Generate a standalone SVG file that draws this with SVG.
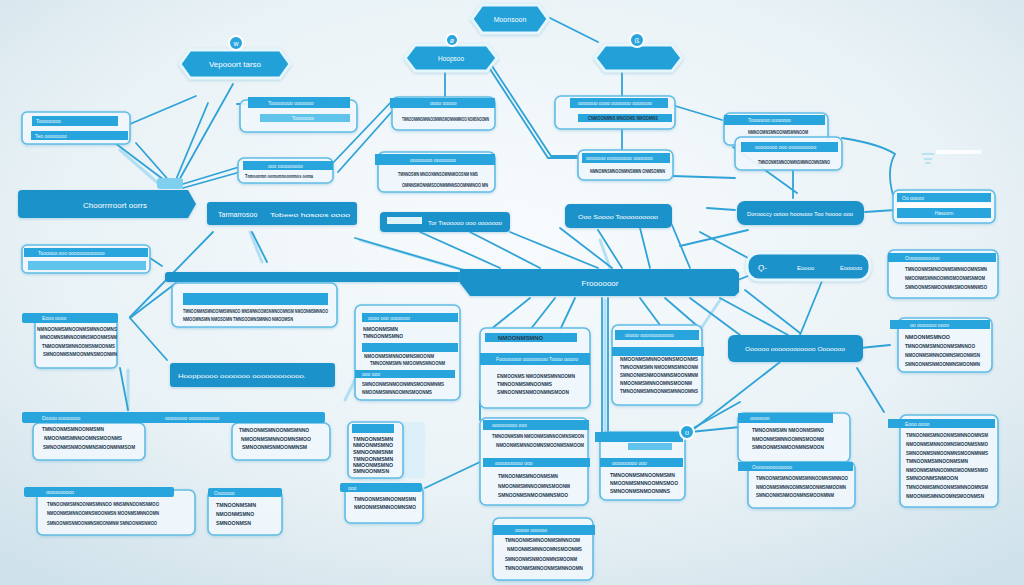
<svg xmlns="http://www.w3.org/2000/svg" width="1024" height="585" viewBox="0 0 1024 585">
<defs>
<radialGradient id="bg" cx="0.5" cy="0.4" r="0.75">
<stop offset="0" stop-color="#f8fbfd"/>
<stop offset="0.6" stop-color="#e9f2f6"/>
<stop offset="1" stop-color="#cfe1ea"/>
</radialGradient>
<filter id="sh" x="-10%" y="-20%" width="120%" height="150%">
<feDropShadow dx="0" dy="1" stdDeviation="1.5" flood-color="#6aaed0" flood-opacity="0.45"/>
</filter>
<style>
.fr{fill:#f5fbfe;fill-opacity:0.88;stroke:#62bde6;stroke-width:1.6;filter:url(#sh)}
.b{fill:#28a5dc}
.bd{fill:#1d92cb;filter:url(#sh)}
.lt{fill:#5fc3ec}
.hx{fill:#22a0d8;stroke:#e6f6fd;stroke-width:3;filter:url(#sh)}
.tw{font-family:"Liberation Sans",Arial,sans-serif;fill:#ffffff}
.ts{font-family:"Liberation Sans",Arial,sans-serif;fill:#e8f7fe;font-size:5px}
.td{font-family:"Liberation Sans",Arial,sans-serif;fill:#22364d;font-size:5.5px;font-weight:bold}
.c{stroke:#2fa3d7;stroke-width:1.8;fill:none;stroke-linecap:round}
.cl{stroke:#9ad6f0;stroke-width:3;fill:none;opacity:0.7;stroke-linecap:round}
.bd2{fill:#28a5dc;stroke:#ffffff;stroke-width:2}
</style>
</defs>
<rect width="1024" height="585" fill="url(#bg)"/>

<g id="connectors">
<path class="cl" d="M160,185 L120,150 M250,232 L262,262 M360,240 L470,272 M600,240 L610,268 M605,300 L605,430 M355,380 L345,400 M128,370 L128,410 M700,330 L720,300"/>
<path class="c" d="M130,124 L196,96"/>
<path class="c" d="M233,84 L178,182"/>
<path class="c" d="M208,103 L175,182"/>
<path class="c" d="M115,143 L168,183"/>
<path class="c" d="M136,143 L172,184"/>
<path class="c" d="M183,184 L239,167"/>
<path class="c" d="M183,188 L240,172"/>
<path class="c" d="M330,166 L392,101"/>
<path class="c" d="M338,172 L396,107"/>
<path class="c" d="M488,66 L548,158 L578,158"/>
<path class="c" d="M492,66 L551,156 L578,156"/>
<path class="c" d="M550,18 L598,42"/>
<path class="c" d="M445,72 L445,97"/>
<path class="c" d="M622,72 L622,97"/>
<path class="c" d="M622,129 L622,150"/>
<path class="c" d="M672,105 L722,120"/>
<path class="c" d="M842,138 Q880,144 895,154 Q886,170 893,195"/>
<path class="c" d="M672,176 L735,178"/>
<path class="c" d="M733,147 L797,193"/>
<path class="c" d="M793,170 L793,198"/>
<path class="c" d="M707,208 L735,210"/>
<path class="c" d="M865,212 L895,210"/>
<path class="c" d="M355,238 L470,272"/>
<path class="c" d="M420,232 L500,268"/>
<path class="c" d="M470,232 L540,268"/>
<path class="c" d="M510,232 L598,268"/>
<path class="c" d="M560,228 L612,268"/>
<path class="c" d="M598,230 L622,268"/>
<path class="c" d="M640,228 L650,268"/>
<path class="c" d="M672,225 L690,268"/>
<path class="c" d="M700,232 L748,258"/>
<path class="c" d="M680,246 L748,230"/>
<path class="c" d="M738,280 L748,276"/>
<path class="c" d="M530,298 L490,330"/>
<path class="c" d="M555,298 L530,330"/>
<path class="c" d="M575,298 L560,330"/>
<path class="c" d="M602,298 L602,432"/>
<path class="c" d="M608,298 L608,432"/>
<path class="c" d="M640,298 L660,325"/>
<path class="c" d="M665,298 L702,330"/>
<path class="c" d="M690,298 L740,335"/>
<path class="c" d="M720,298 L788,335"/>
<path class="c" d="M745,290 L800,333"/>
<path class="c" d="M822,281 L800,335"/>
<path class="c" d="M213,232 L130,317"/>
<path class="c" d="M252,232 L267,262"/>
<path class="c" d="M130,318 L176,283"/>
<path class="c" d="M130,318 L167,360"/>
<path class="c" d="M120,368 L128,410"/>
<path class="c" d="M150,258 L162,266"/>
<path class="c" d="M860,348 L890,345"/>
<path class="c" d="M857,368 L884,412"/>
<path class="c" d="M780,362 L690,432"/>
<path class="c" d="M690,432 L740,427"/>
<path class="c" d="M690,430 L740,402"/>
<path class="c" d="M425,488 L480,462"/>
<path class="c" d="M480,400 L480,420"/>
<path class="c" d="M237,104 L248,104"/>
</g>

<g id="n-hex1">
<path class="hx" d="M190,50 L280,50 L290,64 L280,78 L190,78 L180,64Z"/>
<circle class="bd2" cx="236" cy="43" r="7"/>
<text class="tw" x="236" y="46" text-anchor="middle" style="font-size:7px">w</text>
<text class="tw" x="235" y="67" text-anchor="middle" style="font-size:8px">Vepooort tarso</text>
</g>
<g id="n-hex2">
<path class="hx" d="M482,5 L538,5 L548,19 L538,33 L482,33 L472,19Z"/>
<text class="tw" x="510" y="22" text-anchor="middle" style="font-size:7px">Moonsoon</text>
</g>
<g id="n-hex3">
<path class="hx" d="M415,45 L487,45 L497,58 L487,71 L415,71 L405,58Z"/>
<circle class="bd2" cx="452" cy="40" r="6"/>
<text class="tw" x="452" y="43" text-anchor="middle" style="font-size:7px">ø</text>
<text class="tw" x="451" y="61" text-anchor="middle" style="font-size:6.5px">Hoopsoo</text>
</g>
<g id="n-hex4">
<path class="hx" d="M605,45 L672,45 L682,58 L672,71 L605,71 L595,58Z"/>
<circle class="bd2" cx="637" cy="40" r="7"/>
<text class="tw" x="637" y="43" text-anchor="middle" style="font-size:8px">ß</text>
</g>

<g id="n-a">
<rect class="fr" x="22" y="112" width="108" height="32" rx="5"/>
<rect class="b" x="32" y="116" width="86" height="10"/>
<text class="ts" x="36" y="123">Toooooooo</text>
<rect class="b" x="31" y="131" width="97" height="9"/>
<text class="ts" x="35" y="138">Teo oooooooo</text>
</g>
<g id="n-choor">
<rect x="157" y="178" width="26" height="11" rx="3" fill="#7fd0ef"/>
<path class="bd" d="M18,194 Q18,190 22,190 L188,190 L196,204 L188,218 L22,218 Q18,218 18,214Z"/>
<text class="tw" x="115" y="208" text-anchor="middle" style="font-size:8px">Choorrrroort oorrs</text>
</g>
<g id="n-b">
<rect class="fr" x="240" y="100" width="117" height="32" rx="6"/>
<rect class="b" x="248" y="97" width="102" height="11"/>
<text class="ts" x="268" y="105">Toooooooo ooooooo</text>
<rect class="lt" x="260" y="114" width="90" height="8"/>
<text class="ts" x="292" y="120">Tooooooo</text>
</g>
<g id="n-c">
<rect class="fr" x="238" y="158" width="95" height="25" rx="6"/>
<rect class="b" x="243" y="161" width="90" height="9"/>
<text class="ts" x="268" y="168">ooo ooooooooo</text>
<text class="td" x="245" y="178" textLength="68" lengthAdjust="spacingAndGlyphs">Tnmoonmn oomsmnoonnmos ooma</text>
</g>
<g id="n-tarmar">
<rect class="bd" x="207" y="202" width="150" height="23" rx="3"/>
<text class="tw" x="218" y="217" style="font-size:7px">Tarmarrosoo</text>
<text class="tw" x="270" y="217" style="font-size:5.5px" textLength="80" lengthAdjust="spacingAndGlyphs">Tobeeo hosoos oooo</text>
</g>
<g id="n-d">
<rect class="fr" x="392" y="97" width="103" height="33" rx="6"/>
<rect class="b" x="390" y="98" width="105" height="10"/>
<text class="ts" x="430" y="105">oooo ooooo</text>
<text class="td" x="402" y="121" textLength="87" lengthAdjust="spacingAndGlyphs">TMNOONMNSMNNOOMMNSMONNNMMOO NOMSNOOMN</text>
</g>
<g id="n-e">
<rect class="fr" x="378" y="152" width="117" height="40" rx="6"/>
<rect class="b" x="375" y="154" width="120" height="11"/>
<text class="ts" x="410" y="162">oooooooo oooooooo</text>
<text class="td" x="398" y="176" textLength="80" lengthAdjust="spacingAndGlyphs">TMNNOSMN MNOONMNSOMNNMOOSNM NMS</text>
<text class="td" x="402" y="187" textLength="86" lengthAdjust="spacingAndGlyphs">OMNNSMONNMSOONMMNNSOOMNMNOO MN</text>
</g>
<g id="n-tor">
<rect class="bd" x="380" y="212" width="130" height="20" rx="4"/>
<rect x="387" y="217" width="35" height="7" fill="#dff3fb"/>
<text class="tw" x="428" y="225" style="font-size:5.5px" textLength="74" lengthAdjust="spacingAndGlyphs">Tor Twooooo ooo ooooooo</text>
</g>
<g id="n-f">
<rect class="fr" x="555" y="96" width="120" height="33" rx="6"/>
<rect class="b" x="570" y="98" width="98" height="10"/>
<text class="ts" x="578" y="105">ooooooo oooo ooooooo ooooooo</text>
<rect class="b" x="578" y="114" width="94" height="8"/>
<text class="td" x="588" y="120" textLength="70" lengthAdjust="spacingAndGlyphs" style="font-size:4.5px">CNMOONMNS MNOOMS NMOOMNS</text>
</g>
<g id="n-g">
<rect class="fr" x="578" y="150" width="95" height="30" rx="6"/>
<rect class="b" x="582" y="153" width="88" height="10"/>
<text class="ts" x="586" y="160">ooooooo ooooooooo ooooooo</text>
<text class="td" x="590" y="173" textLength="75" lengthAdjust="spacingAndGlyphs">NMNOMNSMNOONMNSMMN ONMSOMNN</text>
</g>
<g id="n-ooo">
<rect class="bd" x="565" y="204" width="107" height="24" rx="5"/>
<text class="tw" x="618" y="219" text-anchor="middle" style="font-size:5.5px" textLength="80" lengthAdjust="spacingAndGlyphs">Ooo Soooo Toooooooooo</text>
</g>
<g id="n-h">
<rect class="fr" x="724" y="113" width="104" height="32" rx="6"/>
<rect class="b" x="724" y="115" width="101" height="10"/>
<text class="ts" x="748" y="122">Tooooooo ooooooo</text>
<text class="td" x="748" y="134" textLength="60" lengthAdjust="spacingAndGlyphs">NMNOOMNSMNOONMSMNNOOM</text>
</g>
<g id="n-i">
<rect class="fr" x="735" y="137" width="107" height="33" rx="6"/>
<rect class="b" x="741" y="142" width="97" height="10"/>
<text class="ts" x="755" y="149">oooooooo ooo oooooooooo</text>
<text class="td" x="758" y="164" textLength="72" lengthAdjust="spacingAndGlyphs">TMNOONMSMNOONMNSMMNOOMNSMNO</text>
</g>
<g id="n-faint">
<rect x="936" y="150" width="45" height="4" fill="#ffffff" opacity="0.85"/>
<rect x="922" y="153" width="12" height="2" fill="#b9e2f3"/>
<rect x="924" y="158" width="8" height="2" fill="#b9e2f3"/>
<rect x="925" y="162" width="6" height="2" fill="#b9e2f3"/>
</g>
<g id="n-j">
<rect class="fr" x="893" y="190" width="102" height="33" rx="6"/>
<rect class="b" x="897" y="193" width="94" height="9"/>
<text class="ts" x="902" y="200">Oo ooooo</text>
<rect x="897" y="203" width="94" height="5" fill="#ffffff"/>
<rect class="b" x="897" y="208" width="94" height="10"/>
<text class="ts" x="944" y="215" text-anchor="middle">Hasoom</text>
</g>
<g id="n-dor">
<rect class="bd" x="737" y="201" width="127" height="24" rx="8"/>
<text class="tw" x="800" y="216" text-anchor="middle" style="font-size:5px" textLength="106" lengthAdjust="spacingAndGlyphs">Dorooccy ootoo hoosooo Too hoooo ooo</text>
</g>

<g id="n-k">
<rect class="fr" x="22" y="245" width="128" height="28" rx="5"/>
<rect class="b" x="24" y="248" width="124" height="9"/>
<text class="ts" x="38" y="255">Toooooo ooo ooooooooooooo</text>
<rect class="lt" x="28" y="261" width="118" height="9"/>
</g>
<g id="n-long">
<rect class="bd" x="165" y="272" width="300" height="10" rx="3"/>
</g>
<g id="n-froo">
<path class="bd" d="M460,269 L735,269 L739,273 L739,292 L735,296 L470,296 L460,283Z"/>
<text class="tw" x="600" y="286" text-anchor="middle" style="font-size:8px">Froooooor</text>
</g>
<g id="n-l">
<rect class="fr" x="172" y="283" width="165" height="44" rx="6"/>
<rect class="b" x="183" y="293" width="145" height="12"/>
<text class="td" x="183" y="313" textLength="145" lengthAdjust="spacingAndGlyphs">TMNOONMNSMNOONMSMNNOO MNSMNNOOMSNMNOOMNSM NMOONMSMNNOO</text>
<text class="td" x="183" y="321" textLength="110" lengthAdjust="spacingAndGlyphs">NMOOMNSMN NMOSOMN TMNSOOMNSMNNO NMOOMSN</text>
</g>
<g id="n-m">
<rect class="fr" x="35" y="318" width="82" height="50" rx="5"/>
<rect class="b" x="22" y="313" width="96" height="10" rx="2"/>
<text class="ts" x="42" y="320">Eooo oooo</text>
<text class="td" x="37" y="331" textLength="80" lengthAdjust="spacingAndGlyphs">NMNOONMSMNOONMSMNNOOMNS</text>
<text class="td" x="40" y="339" textLength="77" lengthAdjust="spacingAndGlyphs">MNOOMNSMNNOOMNSMOONMSNM</text>
<text class="td" x="42" y="348" textLength="73" lengthAdjust="spacingAndGlyphs">TNMOONMSMNNOOMSNMOONMS</text>
<text class="td" x="43" y="356" textLength="74" lengthAdjust="spacingAndGlyphs">SMNOONMSNMOONMNSMOONMN</text>
</g>
<g id="n-hoopp">
<rect class="bd" x="170" y="363" width="165" height="24" rx="3"/>
<text class="tw" x="178" y="378" style="font-size:6px" textLength="128" lengthAdjust="spacingAndGlyphs">Hooppoooo ooooooo oooooooooooo.</text>
</g>
<g id="n-eoo">
<rect x="747" y="253" width="123" height="27" rx="12" fill="#1d92cb" stroke="#e8f6fd" stroke-width="3" filter="url(#sh)"/>
<text class="tw" x="758" y="270" style="font-size:8px">Ϙ-</text>
<text class="tw" x="797" y="270" style="font-size:6px">Eoooo</text>
<text class="tw" x="840" y="270" style="font-size:5.5px">Eoooooo</text>
</g>
<g id="n-n">
<rect class="fr" x="888" y="250" width="110" height="48" rx="6"/>
<rect class="b" x="888" y="253" width="108" height="9"/>
<text class="ts" x="905" y="260">Oooooooooooo</text>
<text class="td" x="905" y="271" textLength="82" lengthAdjust="spacingAndGlyphs">TMNOONMSMNOONMSMNNOOMNSMN</text>
<text class="td" x="905" y="280" textLength="80" lengthAdjust="spacingAndGlyphs">NMOONMSMNNOOMNSMOONMSNMOM</text>
<text class="td" x="905" y="289" textLength="82" lengthAdjust="spacingAndGlyphs">SMNOONMSNMOONMNSMOONMNMSO</text>
</g>
<g id="n-o">
<rect class="fr" x="898" y="318" width="94" height="54" rx="6"/>
<rect class="b" x="890" y="320" width="100" height="9"/>
<text class="ts" x="910" y="327">oo ooooooo oooo</text>
<text class="td" x="905" y="339" textLength="45" lengthAdjust="spacingAndGlyphs">NMOONMSMNOO</text>
<text class="td" x="905" y="348" textLength="70" lengthAdjust="spacingAndGlyphs">TMNOONMSMNOONMSMNNOO</text>
<text class="td" x="905" y="357" textLength="75" lengthAdjust="spacingAndGlyphs">NMOONMSMNNOOMNSMOONMSN</text>
<text class="td" x="905" y="366" textLength="75" lengthAdjust="spacingAndGlyphs">SMNOONMSNMOONMNSMOONMN</text>
</g>
<g id="n-oooooo">
<rect class="bd" x="728" y="335" width="135" height="27" rx="6"/>
<text class="tw" x="795" y="351" text-anchor="middle" style="font-size:5.5px" textLength="100" lengthAdjust="spacingAndGlyphs">Oooooo oooooooooooo Ooooooo</text>
</g>
<g id="n-p">
<rect class="fr" x="355" y="305" width="105" height="95" rx="6"/>
<rect class="b" x="362" y="313" width="96" height="9"/>
<text class="ts" x="368" y="320">oooo ooo ooooooo</text>
<text class="td" x="363" y="331" textLength="35" lengthAdjust="spacingAndGlyphs">NMOONMSMN</text>
<text class="td" x="363" y="338" textLength="40" lengthAdjust="spacingAndGlyphs">TMNOONMSMNO</text>
<rect class="b" x="362" y="343" width="96" height="9"/>
<text class="td" x="364" y="358" textLength="70" lengthAdjust="spacingAndGlyphs">NMOONMSMNNOOMNSMOONM</text>
<text class="td" x="370" y="365" textLength="75" lengthAdjust="spacingAndGlyphs">TMNOONMSMN NMOOMNSMNOONM</text>
<rect class="b" x="355" y="370" width="100" height="8"/>
<text class="ts" x="362" y="376">ooo ooo</text>
<text class="td" x="362" y="386" textLength="82" lengthAdjust="spacingAndGlyphs">SMNOONMSNMOONMNSMOONMNMS</text>
<text class="td" x="362" y="394" textLength="70" lengthAdjust="spacingAndGlyphs">NMOONMSMNNOOMNSMOONMS</text>
</g>
<g id="n-q">
<rect class="fr" x="480" y="328" width="110" height="80" rx="6"/>
<rect class="b" x="485" y="333" width="92" height="9"/>
<text class="td" x="498" y="340" textLength="45" lengthAdjust="spacingAndGlyphs" style="font-size:4.5px">NMOONMSMNO</text>
<rect class="b" x="480" y="353" width="110" height="12"/>
<text class="ts" x="496" y="361">Foooooooo ooooooooo Toooo ooooo</text>
<text class="td" x="497" y="378" textLength="78" lengthAdjust="spacingAndGlyphs">ENMOONMS NMOONMSMNNOOMN</text>
<text class="td" x="497" y="386" textLength="55" lengthAdjust="spacingAndGlyphs">TMNOONMSMNOONMS</text>
<text class="td" x="497" y="394" textLength="72" lengthAdjust="spacingAndGlyphs">SMNOONMSNMOONMNSMOON</text>
</g>
<g id="n-r">
<rect class="fr" x="612" y="325" width="90" height="80" rx="6"/>
<rect class="b" x="615" y="330" width="84" height="10"/>
<text class="ts" x="625" y="337">ooooo oooooooooooo</text>
<rect class="b" x="612" y="347" width="92" height="9"/>
<text class="td" x="620" y="361" textLength="78" lengthAdjust="spacingAndGlyphs">NMOONMSMNNOOMNSMOONMS</text>
<text class="td" x="620" y="369" textLength="78" lengthAdjust="spacingAndGlyphs">TMNOONMSMN NMOOMNSMNOONM</text>
<text class="td" x="620" y="377" textLength="78" lengthAdjust="spacingAndGlyphs">SMNOONMSNMOONMNSMOONMNM</text>
<text class="td" x="620" y="385" textLength="72" lengthAdjust="spacingAndGlyphs">NMOONMSMNNOOMNSMOONM</text>
<text class="td" x="620" y="393" textLength="78" lengthAdjust="spacingAndGlyphs">TMNOONMSMNOONMSMNNOOMNS</text>
</g>

<g id="n-s">
<rect class="fr" x="33" y="423" width="112" height="37" rx="6"/>
<rect class="fr" x="232" y="423" width="98" height="37" rx="6"/>
<rect class="b" x="22" y="412" width="303" height="11" rx="2"/>
<text class="ts" x="42" y="420">Doooo oooooooo</text>
<text class="ts" x="165" y="420">oooooooo ooooooooooo</text>
<text class="td" x="42" y="431" textLength="62" lengthAdjust="spacingAndGlyphs">TMNOONMSMNOONMSMN</text>
<text class="td" x="44" y="440" textLength="78" lengthAdjust="spacingAndGlyphs">NMOONMSMNNOOMNSMOONMS</text>
<text class="td" x="43" y="449" textLength="92" lengthAdjust="spacingAndGlyphs">SMNOONMSNMOONMNSMOONMNMSOM</text>
<text class="td" x="239" y="432" textLength="70" lengthAdjust="spacingAndGlyphs">TMNOONMSMNOONMSMNNO</text>
<text class="td" x="241" y="441" textLength="70" lengthAdjust="spacingAndGlyphs">NMOONMSMNNOOMNSMOO</text>
<text class="td" x="242" y="449" textLength="65" lengthAdjust="spacingAndGlyphs">SMNOONMSNMOONMNSM</text>
</g>
<g id="n-t">
<rect class="fr" x="37" y="490" width="158" height="45" rx="6"/>
<rect class="b" x="24" y="487" width="150" height="10" rx="2"/>
<text class="ts" x="46" y="494">oooooooooo</text>
<text class="td" x="47" y="506" textLength="112" lengthAdjust="spacingAndGlyphs">TMNOONMSMNOONMSMNNOO MNSMNNOOMSNMOO</text>
<text class="td" x="47" y="515" textLength="112" lengthAdjust="spacingAndGlyphs">NMOONMSMNNOOMNSMOONMSN MOONMSMNNOOMN</text>
<text class="td" x="47" y="525" textLength="110" lengthAdjust="spacingAndGlyphs">SMNOONMSNMOONMNSMOONMNM SMNOONMSNMOO</text>
</g>
<g id="n-u">
<rect class="fr" x="208" y="490" width="74" height="45" rx="6"/>
<rect class="b" x="208" y="488" width="74" height="9" rx="2"/>
<text class="ts" x="214" y="495">Ooooooo</text>
<text class="td" x="216" y="507" textLength="40" lengthAdjust="spacingAndGlyphs">TMNOONMSMN</text>
<text class="td" x="216" y="516" textLength="38" lengthAdjust="spacingAndGlyphs">NMOONMSMNO</text>
<text class="td" x="216" y="525" textLength="35" lengthAdjust="spacingAndGlyphs">SMNOONMSN</text>
</g>
<g id="n-v">
<rect x="395" y="422" width="30" height="56" rx="4" fill="#d6eef9" opacity="0.7"/>
<rect class="fr" x="348" y="422" width="55" height="56" rx="5"/>
<rect class="b" x="352" y="424" width="42" height="9"/>
<text class="td" x="353" y="441" textLength="40" lengthAdjust="spacingAndGlyphs" style="font-size:4.5px">TMNOONMSMN</text>
<text class="td" x="353" y="447" textLength="40" lengthAdjust="spacingAndGlyphs" style="font-size:4.5px">NMOONMSMNO</text>
<text class="td" x="353" y="454" textLength="40" lengthAdjust="spacingAndGlyphs" style="font-size:4.5px">SMNOONMSNM</text>
<text class="td" x="353" y="461" textLength="40" lengthAdjust="spacingAndGlyphs" style="font-size:4.5px">TMNOONMSMN</text>
<text class="td" x="353" y="467" textLength="40" lengthAdjust="spacingAndGlyphs" style="font-size:4.5px">NMOONMSMNO</text>
<text class="td" x="353" y="473" textLength="36" lengthAdjust="spacingAndGlyphs" style="font-size:4.5px">SMNOONMSN</text>
</g>
<g id="n-w">
<rect class="fr" x="345" y="485" width="78" height="38" rx="6"/>
<rect class="b" x="340" y="483" width="82" height="9" rx="2"/>
<text class="ts" x="348" y="490">ooo</text>
<text class="td" x="354" y="501" textLength="62" lengthAdjust="spacingAndGlyphs">TMNOONMSMNOONMSMN</text>
<text class="td" x="354" y="509" textLength="62" lengthAdjust="spacingAndGlyphs">NMOONMSMNNOOMNSMO</text>
</g>
<g id="n-x">
<rect class="fr" x="480" y="418" width="108" height="87" rx="6"/>
<rect class="b" x="483" y="420" width="106" height="10"/>
<text class="ts" x="492" y="427">ooooooooo ooo</text>
<text class="td" x="492" y="438" textLength="92" lengthAdjust="spacingAndGlyphs">TMNOONMSMN NMOONMSMNNOOMNSMOON</text>
<text class="td" x="496" y="447" textLength="88" lengthAdjust="spacingAndGlyphs">NMOONMSMNNOOMNSMOONMSNMOOM</text>
<rect class="b" x="483" y="458" width="107" height="9"/>
<text class="ts" x="495" y="465">oooooooooo ooo</text>
<text class="td" x="498" y="478" textLength="60" lengthAdjust="spacingAndGlyphs">TMNOONMSMNOONMSMN</text>
<text class="td" x="498" y="488" textLength="72" lengthAdjust="spacingAndGlyphs">NMOONMSMNNOOMNSMOONM</text>
<text class="td" x="498" y="497" textLength="70" lengthAdjust="spacingAndGlyphs">SMNOONMSNMOONMNSMOO</text>
</g>
<g id="n-y">
<rect class="fr" x="493" y="518" width="100" height="62" rx="6"/>
<rect class="b" x="493" y="525" width="102" height="10"/>
<text class="ts" x="515" y="532">ooooo oooooo</text>
<text class="td" x="505" y="542" textLength="75" lengthAdjust="spacingAndGlyphs">TMNOONMSMNOONMSMNNOOM</text>
<text class="td" x="507" y="551" textLength="75" lengthAdjust="spacingAndGlyphs">NMOONMSMNNOOMNSMOONMS</text>
<text class="td" x="505" y="561" textLength="72" lengthAdjust="spacingAndGlyphs">SMNOONMSNMOONMNSMOONM</text>
<text class="td" x="505" y="570" textLength="78" lengthAdjust="spacingAndGlyphs">TMNOONMSMNOONMSMNNOOMN</text>
</g>
<g id="n-z">
<rect class="fr" x="600" y="432" width="85" height="68" rx="6"/>
<rect class="b" x="595" y="432" width="88" height="10"/>
<circle class="bd2" cx="687" cy="432" r="7"/>
<text class="tw" x="687" y="435" text-anchor="middle" style="font-size:7px">ʊ</text>
<rect class="lt" x="628" y="443" width="44" height="7"/>
<rect class="b" x="600" y="458" width="83" height="9"/>
<text class="ts" x="612" y="465">ooooooooo ooo</text>
<text class="td" x="610" y="477" textLength="65" lengthAdjust="spacingAndGlyphs">TMNOONMSMNOONMSMN</text>
<text class="td" x="610" y="485" textLength="68" lengthAdjust="spacingAndGlyphs">NMOONMSMNNOOMNSMOO</text>
<text class="td" x="610" y="493" textLength="60" lengthAdjust="spacingAndGlyphs">SMNOONMSNMOONMNS</text>
</g>
<g id="n-aa">
<rect class="fr" x="738" y="413" width="112" height="49" rx="6"/>
<rect class="b" x="738" y="413" width="95" height="10"/>
<text class="ts" x="750" y="420">ooooooo</text>
<text class="td" x="752" y="432" textLength="72" lengthAdjust="spacingAndGlyphs">TMNOONMSMN NMOONMSMNO</text>
<text class="td" x="752" y="441" textLength="72" lengthAdjust="spacingAndGlyphs">NMOONMSMNNOOMNSMOONM</text>
<text class="td" x="752" y="449" textLength="72" lengthAdjust="spacingAndGlyphs">SMNOONMSNMOONMNSMOON</text>
</g>
<g id="n-ab">
<rect class="fr" x="748" y="462" width="107" height="46" rx="6"/>
<rect class="b" x="738" y="462" width="115" height="9"/>
<text class="ts" x="752" y="469">Oooooooooooooo</text>
<text class="td" x="756" y="480" textLength="92" lengthAdjust="spacingAndGlyphs">TMNOONMSMNOONMSMNNOOMNSMNNOO</text>
<text class="td" x="756" y="489" textLength="90" lengthAdjust="spacingAndGlyphs">NMOONMSMNNOOMNSMOONMSNMOOMN</text>
<text class="td" x="756" y="497" textLength="78" lengthAdjust="spacingAndGlyphs">SMNOONMSNMOONMNSMOONMNM</text>
</g>
<g id="n-ac">
<rect class="fr" x="900" y="415" width="98" height="92" rx="6"/>
<rect class="b" x="888" y="419" width="107" height="9"/>
<text class="ts" x="905" y="426">Eooo oooo</text>
<text class="td" x="906" y="437" textLength="82" lengthAdjust="spacingAndGlyphs">TMNOONMSMNOONMSMNNOOMNSM</text>
<text class="td" x="906" y="446" textLength="82" lengthAdjust="spacingAndGlyphs">NMOONMSMNNOOMNSMOONMSNMO</text>
<text class="td" x="906" y="455" textLength="82" lengthAdjust="spacingAndGlyphs">SMNOONMSNMOONMNSMOONMNMS</text>
<text class="td" x="906" y="463" textLength="62" lengthAdjust="spacingAndGlyphs">TMNOONMSMNOONMSMN</text>
<text class="td" x="906" y="472" textLength="82" lengthAdjust="spacingAndGlyphs">NMOONMSMNNOOMNSMOONMSNMO</text>
<text class="td" x="906" y="480" textLength="52" lengthAdjust="spacingAndGlyphs">SMNOONMSNMOON</text>
<text class="td" x="906" y="489" textLength="82" lengthAdjust="spacingAndGlyphs">TMNOONMSMNOONMSMNNOOMNSM</text>
<text class="td" x="906" y="498" textLength="78" lengthAdjust="spacingAndGlyphs">NMOONMSMNNOOMNSMOONMSN</text>
</g>
</svg>
